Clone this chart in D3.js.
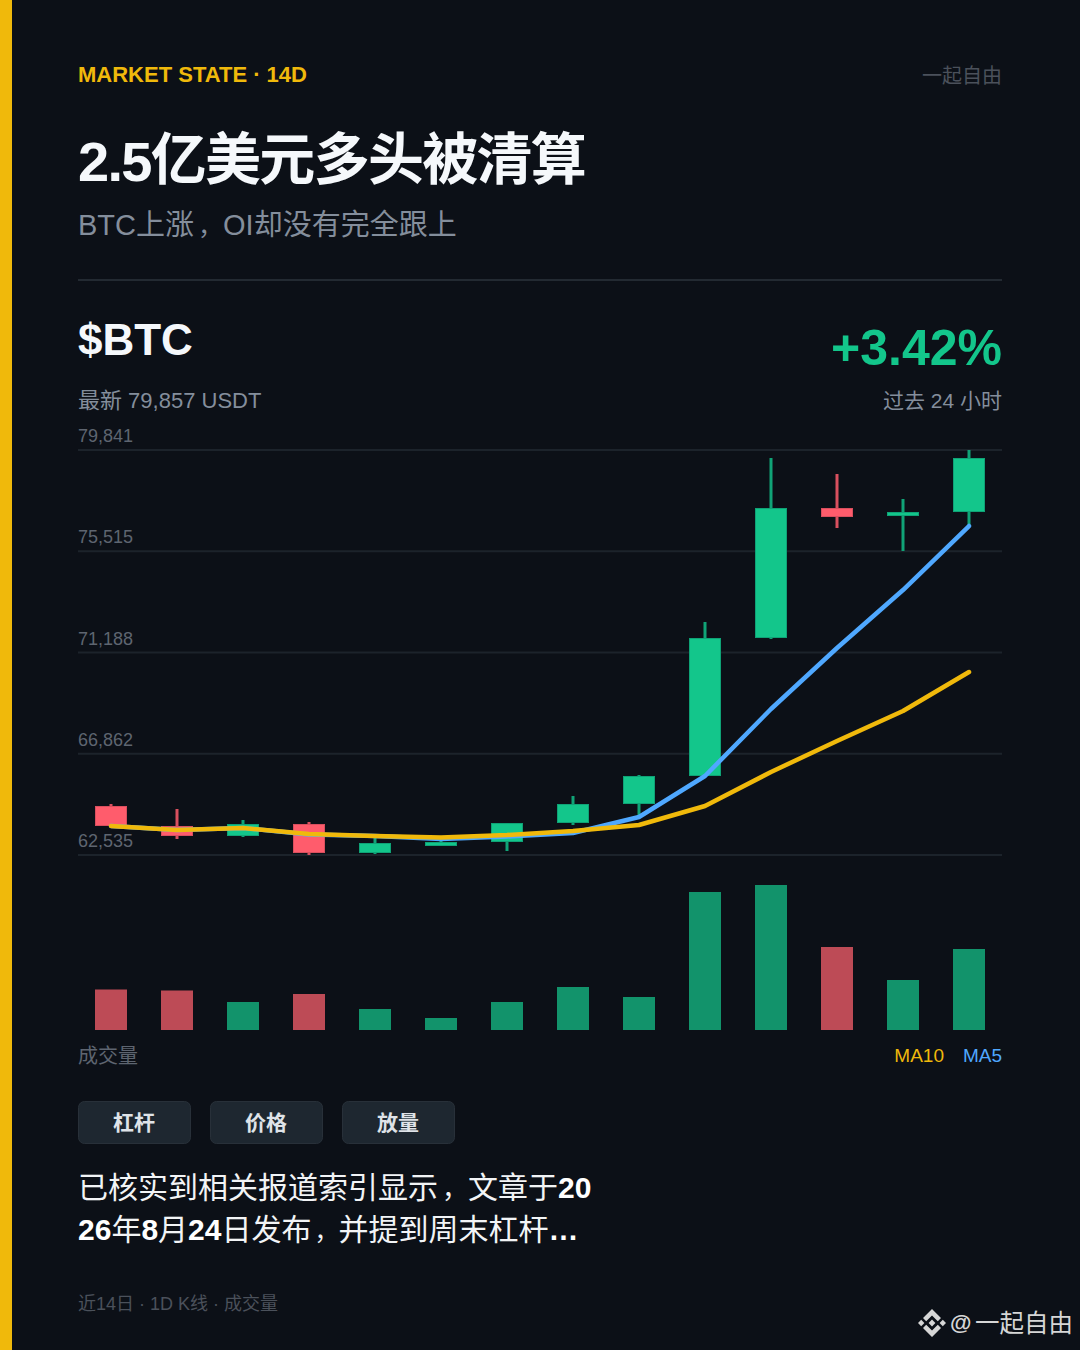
<!DOCTYPE html>
<html lang="zh-CN">
<head>
<meta charset="utf-8">
<script src="https://cdn.jsdelivr.net/npm/d3@7"></script>
<style>
html, body { margin: 0; padding: 0; background: #0c1017; }
svg { display: block; }
text { font-family: "Liberation Sans", "Noto Sans CJK SC", sans-serif; }
</style>
</head>
<body>
<div id="chart"></div>
<script>
// 14 daily candles
var days   = ["d1","d2","d3","d4","d5","d6","d7","d8","d9","d10","d11","d12","d13","d14"];
var opens  = [64629,63774,63347,63860,62620,62920,63090,63902,64714,65911,71807,77362,77020,77191];
var closes = [63774,63347,63860,62620,63048,63090,63902,64714,65911,71807,77362,76978,77191,79499];
var highs  = [64714,64501,64031,63945,63261,63219,63902,65056,65953,72491,79499,78815,77747,79841];
var lows   = [63774,63219,63304,62535,62578,62920,62706,63817,64159,65911,71765,76508,75525,76593];
var volumes = [40.5,39.5,28,36,21,12,28,43,33,138,145,83,50,81];
var ma5  = [63774,63603,63689,63411,63347,63219,63326,63475,64159,65911,68774,71380,73858,76593];
var ma10 = [63774,63603,63689,63432,63347,63283,63390,63561,63817,64629,66082,67406,68688,70355];
var priceTicks = [79841,75515,71188,66862,62535];
var tags = ["杠杆","价格","放量"];

var green = "#13c68b", greenDark = "#10a377", red = "#ff5c6c", redDark = "#d9505f";
var volGreen = "#12936b", volRed = "#bd4b56";

var svg = d3.select("#chart").append("svg")
  .attr("width", 1080)
  .attr("height", 1350);

svg.append("rect").attr("width", 1080).attr("height", 1350).attr("fill", "#0c1017");
svg.append("rect").attr("width", 12).attr("height", 1350).attr("fill", "#f0b90b");

function label(x, y, str, size, color, weight, anchor) {
  return svg.append("text")
    .attr("x", x).attr("y", y)
    .attr("font-size", size)
    .attr("fill", color)
    .attr("font-weight", weight || "normal")
    .attr("text-anchor", anchor || "start")
    .text(str);
}

// adds runs to a text element: [string, bold, dx, font size]
function runs(el, list) {
  list.forEach(function(r) {
    var t = el.append("tspan").text(r[0]);
    if (r[1]) t.attr("font-weight", "bold").attr("fill", "#ffffff");
    if (r[2]) t.attr("dx", r[2]);
    if (r[3]) t.attr("font-size", r[3]);
  });
}

// header
label(78, 82, "MARKET STATE · 14D", 22, "#f0b90b", "bold");
label(1002, 83, "一起自由", 20, "#4b515b", "normal", "end");
var title = label(78, 181, "2.5", 56, "#f5f8fb", "bold").attr("letter-spacing", "-1.7px");
title.append("tspan").attr("dy", -2.5).text("亿美元多头被清算");
runs(label(78, 235, "", 29, "#848e9c"), [["BTC上涨"], ["，", false, 4, 25], ["OI却没有完全跟上"]]);
svg.append("line").attr("x1", 78).attr("x2", 1002).attr("y1", 280).attr("y2", 280)
  .attr("stroke", "#232a32").attr("stroke-width", 2);

label(78, 355, "$BTC", 44, "#f5f8fb", "bold");
label(1002, 365, "+3.42%", 50, "#13c68b", "bold", "end");
label(78, 408, "最新 79,857 USDT", 22, "#848e9c");
label(1002, 408, "过去 24 小时", 21, "#848e9c", "normal", "end");

// scales
var x = d3.scaleBand().domain(days).range([78, 1002]).paddingInner(0.515).paddingOuter(0.2575);
var y = d3.scaleLinear().domain([62535, 79841]).range([855, 450]);
var v = d3.scaleLinear().domain([0, 145]).range([1030, 885]);
var cx = function(d) { return x(d) + x.bandwidth() / 2; };

// grid + price labels
var axis = svg.append("g")
  .attr("transform", "translate(78,0)")
  .call(d3.axisRight(y).offset(0).tickValues(priceTicks).tickSize(924).tickFormat(d3.format(",")));
axis.select(".domain").remove();
axis.selectAll("line").attr("stroke", "#1c232b").attr("stroke-width", 2);
axis.selectAll("text")
  .attr("x", 0).attr("dy", "-8px")
  .attr("text-anchor", "start")
  .attr("font-size", 18)
  .attr("font-family", "Liberation Sans")
  .attr("fill", "#5e6570");

// candles
var candle = svg.append("g").selectAll("g").data(days).enter().append("g");
candle.append("line")
  .attr("x1", cx).attr("x2", cx)
  .attr("y1", function(d, i) { return y(highs[i]); })
  .attr("y2", function(d, i) { return y(lows[i]); })
  .attr("stroke-width", 3)
  .attr("stroke", function(d, i) { return closes[i] >= opens[i] ? greenDark : redDark; });
candle.append("rect")
  .attr("x", function(d) { return x(d) + 0.5; })
  .attr("width", x.bandwidth() - 1)
  .attr("y", function(d, i) { return y(Math.max(opens[i], closes[i])) + 0.5; })
  .attr("height", function(d, i) { return Math.abs(y(opens[i]) - y(closes[i])) - 1; })
  .attr("fill", function(d, i) { return closes[i] >= opens[i] ? green : red; })
  .attr("stroke", function(d, i) { return closes[i] >= opens[i] ? greenDark : redDark; })
  .attr("stroke-width", 1);

// volume
svg.append("g").selectAll("rect").data(days).enter().append("rect")
  .attr("x", function(d) { return x(d); })
  .attr("width", x.bandwidth())
  .attr("y", function(d, i) { return v(volumes[i]); })
  .attr("height", function(d, i) { return v(0) - v(volumes[i]); })
  .attr("fill", function(d, i) { return closes[i] >= opens[i] ? volGreen : volRed; });

// moving averages
var line = d3.line()
  .x(function(d, i) { return cx(days[i]); })
  .y(function(d) { return y(d); });
svg.append("path").attr("d", line(ma5)).attr("fill", "none")
  .attr("stroke", "#4fa8ff").attr("stroke-width", 4.5).attr("stroke-linejoin", "round").attr("stroke-linecap", "round");
svg.append("path").attr("d", line(ma10)).attr("fill", "none")
  .attr("stroke", "#f0b90b").attr("stroke-width", 4.5).attr("stroke-linejoin", "round").attr("stroke-linecap", "round");

label(78, 1063, "成交量", 20, "#5e6570");
label(944, 1062, "MA10", 19, "#f0b90b", "normal", "end");
label(1002, 1062, "MA5", 19, "#4fa8ff", "normal", "end");

// tags
var tag = svg.append("g").selectAll("g").data(tags).enter().append("g")
  .attr("transform", function(d, i) { return "translate(" + (78 + i * 132) + ",1101)"; });
tag.append("rect")
  .attr("x", 0.5).attr("y", 0.5)
  .attr("width", 112).attr("height", 42).attr("rx", 6)
  .attr("fill", "#1e2730").attr("stroke", "#283039");
tag.append("text")
  .attr("x", 56).attr("y", 29)
  .attr("text-anchor", "middle")
  .attr("font-size", 21).attr("font-weight", "bold")
  .attr("fill", "#dfe3e8")
  .text(function(d) { return d; });

// body copy, bold runs are the numbers
runs(label(78, 1198, "", 30, "#f2f4f6"), [
  ["已核实到相关报道索引显示"], ["，", false, 4, 26], ["文章于"], ["20", true]
]);
runs(label(78, 1240, "", 30, "#f2f4f6"), [
  ["26", true], ["年"], ["8", true], ["月"], ["24", true], ["日发布"],
  ["，", false, 3, 24], ["并提到周末杠杆"], ["…", true]
]);

label(78, 1310, "近14日 · 1D K线 · 成交量", 18, "#4b515b");

// watermark
var logo = svg.append("g").attr("transform", "translate(932,1323)").attr("fill", "#d6d6d6");
logo.append("path").attr("d", "M0,-14 L9,-5 L5.8,-1.8 L0,-7.6 L-5.8,-1.8 L-9,-5 Z");
logo.append("path").attr("d", "M0,14 L9,5 L5.8,1.8 L0,7.6 L-5.8,1.8 L-9,5 Z");
logo.append("path").attr("d", "M0,-3.4 L3.4,0 L0,3.4 L-3.4,0 Z");
logo.append("path").attr("d", "M-10.8,-3.2 L-7.6,0 L-10.8,3.2 L-14,0 Z");
logo.append("path").attr("d", "M10.8,-3.2 L14,0 L10.8,3.2 L7.6,0 Z");
label(950, 1330, "@", 22, "#d6d6d6", "bold");
label(1073, 1332, "一起自由", 24.5, "#d6d6d6", "normal", "end");
</script>
</body>
</html>
